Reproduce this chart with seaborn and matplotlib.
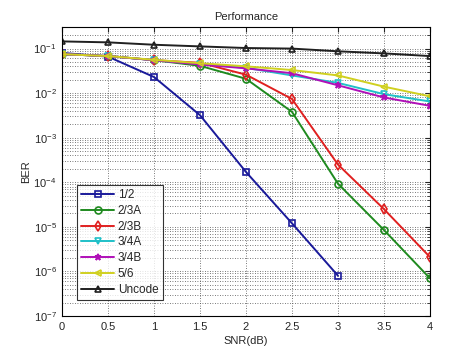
import numpy as np
import pandas as pd
import matplotlib
matplotlib.use("Agg")
import matplotlib.pyplot as plt
import matplotlib.ticker as mticker
import seaborn as sns

snr = [0, 0.5, 1, 1.5, 2, 2.5, 3, 3.5, 4]
snr_half = [0, 0.5, 1, 1.5, 2, 2.5, 3]

ber_1_2 = [0.08, 0.066, 0.023, 0.0032, 1.7e-4, 1.2e-5, 8e-7]
ber_2_3A = [0.075, 0.068, 0.055, 0.041, 0.021, 0.0038, 9.3e-5, 8.5e-6, 7e-7]
ber_2_3B = [0.075, 0.068, 0.055, 0.048, 0.026, 0.0074, 2.5e-4, 2.5e-5, 2.1e-6]
ber_3_4A = [0.075, 0.068, 0.055, 0.045, 0.037, 0.025, 0.017, 0.0095, 0.0065]
ber_3_4B = [0.075, 0.068, 0.055, 0.044, 0.036, 0.028, 0.015, 0.008, 0.0052]
ber_5_6 = [0.075, 0.068, 0.056, 0.047, 0.040, 0.033, 0.025, 0.014, 0.0085]
ber_uncode = [0.145, 0.138, 0.122, 0.112, 0.103, 0.100, 0.087, 0.078, 0.068]

labels = ["1/2", "2/3A", "2/3B", "3/4A", "3/4B", "5/6", "Uncode"]

series = [
    (snr_half, ber_1_2, "#1a1a9a", "s"),
    (snr, ber_2_3A, "#1f8a1f", "o"),
    (snr, ber_2_3B, "#e02020", "d"),
    (snr, ber_3_4A, "#20c0c8", "v"),
    (snr, ber_3_4B, "#b010b8", "*"),
    (snr, ber_5_6, "#d0d020", "<"),
    (snr, ber_uncode, "#202020", "^"),
]

sns.set_style("white")
plt.rcParams["font.family"] = ["Liberation Sans", "DejaVu Sans"]

fig = plt.figure(figsize=(4.74, 3.55), dpi=100)
ax = fig.add_axes([0.131, 0.11, 0.776, 0.813])

for (xs, ys, col, mk), lab in zip(series, labels):
    filled = mk == "*"
    sns.lineplot(x=xs, y=ys, ax=ax, color=col, marker=mk, label=lab,
                 linewidth=1.4, markersize=5,
                 markerfacecolor=col if filled else "none",
                 markeredgecolor=col, markeredgewidth=1.2)

ax.set_yscale("log")
ax.set_xlim(0, 4)
ax.set_ylim(1e-7, 0.3)
ax.set_xticks([0, 0.5, 1, 1.5, 2, 2.5, 3, 3.5, 4])
ax.set_xticklabels(["0", "0.5", "1", "1.5", "2", "2.5", "3", "3.5", "4"])
ax.yaxis.set_minor_formatter(mticker.NullFormatter())
ax.grid(True, which="both", axis="y", linestyle=(0, (1, 2)), color="0.3", linewidth=0.6)
ax.grid(True, which="major", axis="x", linestyle=(0, (1, 2)), color="0.3", linewidth=0.6)
ax.tick_params(direction="in", which="both", labelsize=8, top=True, right=True, pad=4)
for s in ax.spines.values():
    s.set_color("black")
    s.set_linewidth(0.8)
ax.set_xlabel("SNR(dB)", fontsize=8, labelpad=3)
ax.set_ylabel("BER", fontsize=8, labelpad=2)
ax.set_title("Performance", fontsize=8, pad=5)

leg = ax.legend(loc="lower left", bbox_to_anchor=(0.025, 0.035), fontsize=8.5,
                frameon=True, fancybox=False, edgecolor="black",
                handlelength=2.8, borderpad=0.35, labelspacing=0.32,
                handletextpad=0.3)
leg.get_frame().set_linewidth(0.8)

fig.savefig("out.png", dpi=100, facecolor="white")
